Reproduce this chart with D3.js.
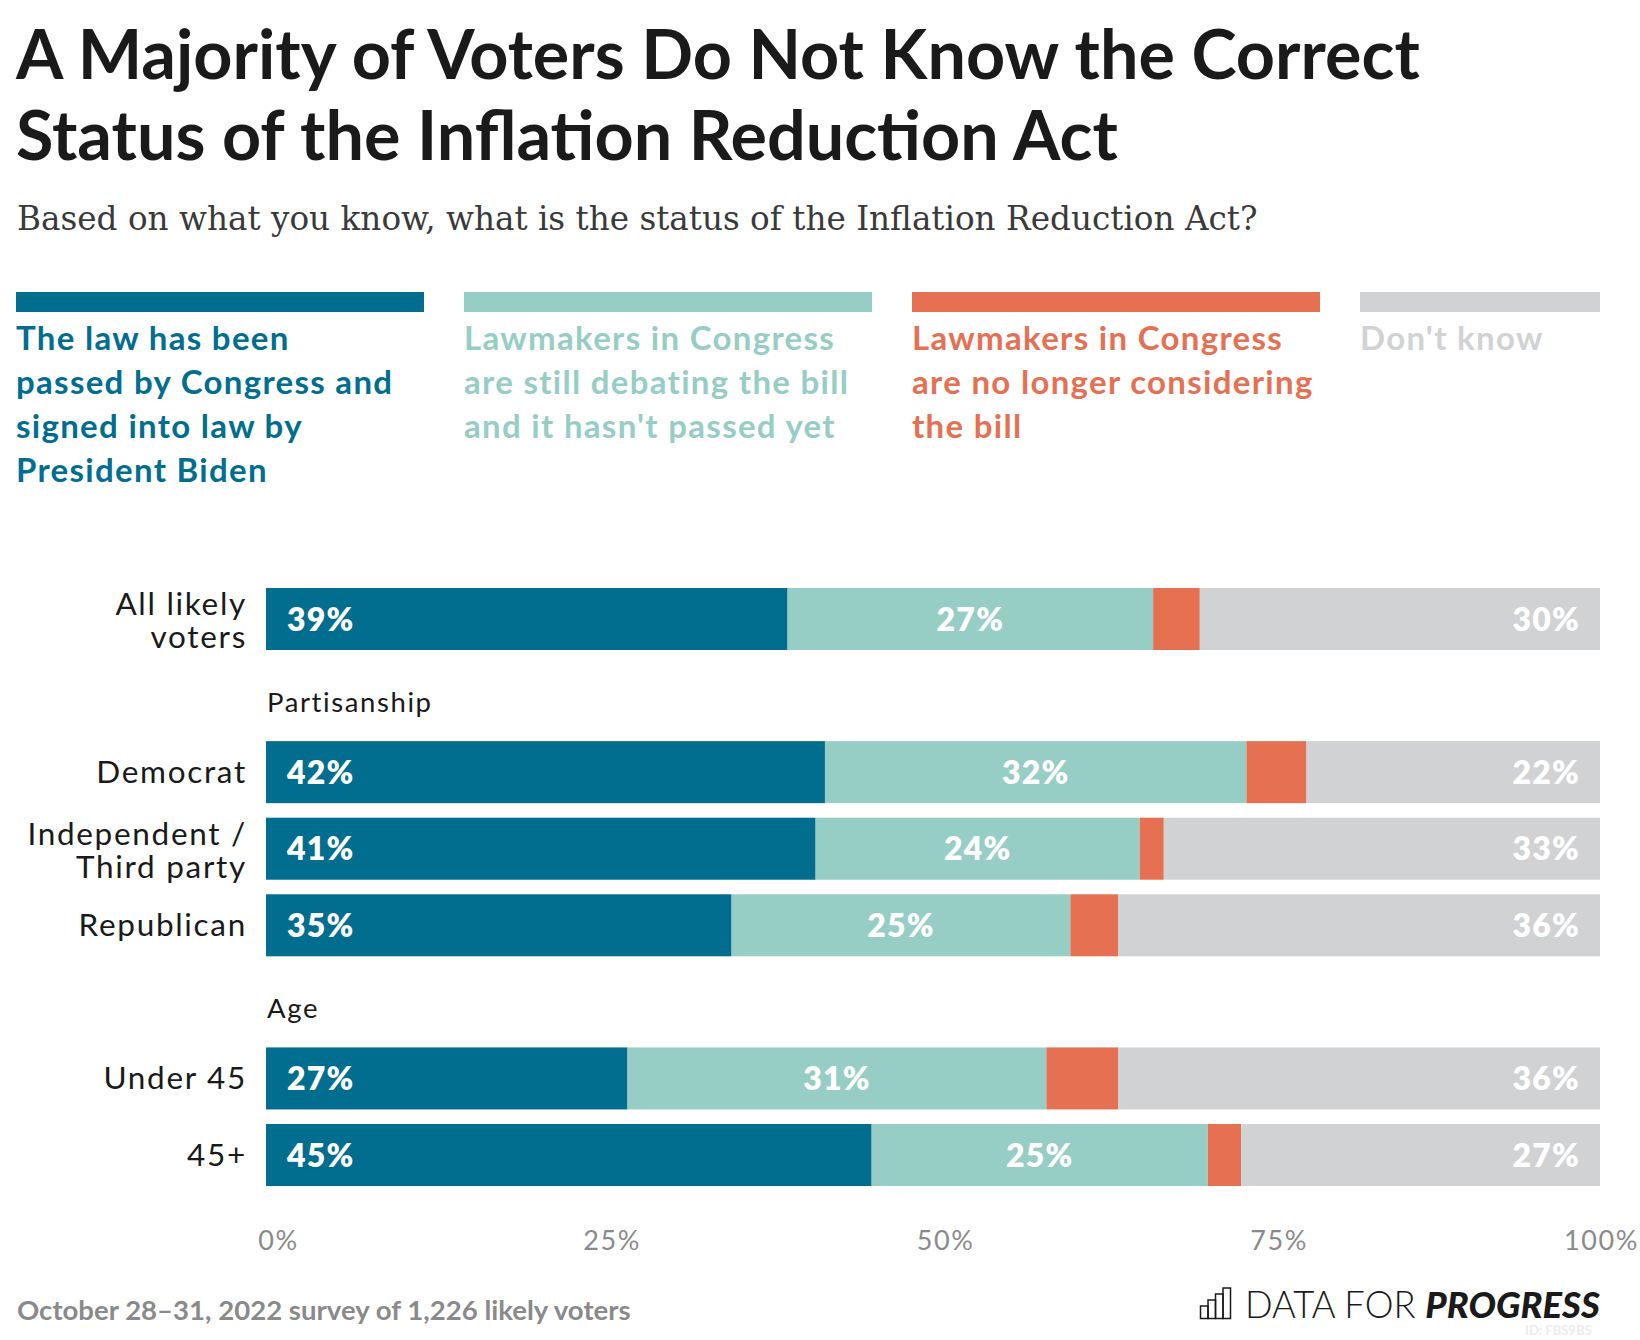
<!DOCTYPE html>
<html><head><meta charset="utf-8">
<script src="https://cdn.jsdelivr.net/npm/d3@7"></script>
<style>
body{margin:0;background:#fff;}
svg{display:block;}
</style></head><body>
<svg id="chart" width="1640" height="1340"></svg>
<script>
// ---------- DATA ----------
const titleLines = ["A Majority of Voters Do Not Know the Correct", "Status of the Inflation Reduction Act"];
const subtitle = "Based on what you know, what is the status of the Inflation Reduction Act?";
const categories = ["All likely voters", "Democrat", "Independent / Third party", "Republican", "Under 45", "45+"];
const categoryLines = [["All likely", "voters"], ["Democrat"], ["Independent /", "Third party"], ["Republican"], ["Under 45"], ["45+"]];
const categoryGroups = ["", "Partisanship", "Partisanship", "Partisanship", "Age", "Age"];
const seriesKeys = ["passed", "debating", "noLonger", "dontKnow"];
const seriesLegend = [
  ["The law has been", "passed by Congress and", "signed into law by", "President Biden"],
  ["Lawmakers in Congress", "are still debating the bill", "and it hasn't passed yet"],
  ["Lawmakers in Congress", "are no longer considering", "the bill"],
  ["Don't know"]
];
const seriesColors = ["#016e8f", "#96cec6", "#e67052", "#d1d2d4"];
const passed   = [39.1, 41.9, 41.2, 34.9, 27.1, 45.4];
const debating = [27.4, 31.6, 24.3, 25.4, 31.4, 25.2];
const noLonger = [ 3.5,  4.5,  1.8,  3.6,  5.4,  2.5];
const dontKnow = [30.0, 22.0, 32.7, 36.1, 36.1, 26.9];
const tickValues = [0, 25, 50, 75, 100];
const footnote = "October 28\u201331, 2022 survey of 1,226 likely voters";

// ---------- LAYOUT ----------
const svg = d3.select("#chart");
const SANS = "Lato, 'Noto Sans', sans-serif";

function fitWidth(sel, target) {
  const w = sel.node().getComputedTextLength();
  const fs = parseFloat(sel.attr("font-size"));
  const nfs = fs * target / w;
  sel.attr("font-size", nfs);
  return nfs;
}

// Title
const t1 = svg.append("text").attr("x", 16).attr("y", 79)
  .attr("font-family", SANS).attr("font-weight", 700).attr("font-size", 64)
  .attr("fill", "#1a1a1a").text(titleLines[0]);
const tfs = fitWidth(t1, 1404);
svg.append("text").attr("x", 16).attr("y", 160)
  .attr("font-family", SANS).attr("font-weight", 700).attr("font-size", tfs)
  .attr("fill", "#1a1a1a").text(titleLines[1]);

// Subtitle
const st = svg.append("text").attr("x", 17).attr("y", 230)
  .attr("font-family", "'DejaVu Serif', serif").attr("font-size", 30)
  .attr("fill", "#3a3a3a").text(subtitle);
fitWidth(st, 1241);

// Legend
const legendX = d3.scaleBand().domain(seriesKeys).range([16, 16 + 4 * 448 - 40]).paddingInner(40 / 448).paddingOuter(0).align(0);
const legendG = svg.append("g");
seriesKeys.forEach((k, i) => {
  const x0 = legendX(k);
  const w = Math.min(legendX.bandwidth(), 1600 - x0);
  legendG.append("rect").attr("x", x0).attr("y", 292).attr("width", w).attr("height", 20).attr("fill", seriesColors[i]);
  seriesLegend[i].forEach((line, j) => {
    legendG.append("text").attr("x", x0).attr("y", 350 + j * 44)
      .attr("font-family", SANS).attr("font-weight", 700).attr("font-size", 33)
      .attr("letter-spacing", 1.3)
      .attr("fill", seriesColors[i]).text(line);
  });
});

// Rows (bars + group header slots)
const slots = [];
let prevGroup = "";
categories.forEach((c, i) => {
  const g = categoryGroups[i];
  if (g && g !== prevGroup) slots.push({type: "header", label: g, key: "h_" + g});
  prevGroup = g;
  slots.push({type: "bar", index: i, key: c});
});

const x = d3.scaleLinear().domain([0, 100]).range([266, 1600]);
const y = d3.scaleBand().domain(slots.map(s => s.key)).range([580.7, 1193.3]).paddingInner(0.19).paddingOuter(0.095);

const seriesArrays = [passed, debating, noLonger, dontKnow];
const table = categories.map((c, i) => {
  const o = {category: c};
  seriesKeys.forEach((k, j) => o[k] = seriesArrays[j][i]);
  return o;
});
const stacked = d3.stack().keys(seriesKeys)(table);

const barsG = svg.append("g");
stacked.forEach((layer, li) => {
  barsG.selectAll(null).data(layer).enter().append("rect")
    .attr("x", d => x(d[0]))
    .attr("y", d => y(d.data.category))
    .attr("width", d => x(d[1]) - x(d[0]))
    .attr("height", y.bandwidth())
    .attr("fill", seriesColors[li]);
});

// value labels
const VFS = 32;
stacked.forEach((layer, li) => {
  if (li === 2) return;
  barsG.selectAll(null).data(layer).enter().append("text")
    .attr("x", d => li === 0 ? x(d[0]) + 21 : li === 1 ? (x(d[0]) + x(d[1])) / 2 : x(d[1]) - 20)
    .attr("y", d => y(d.data.category) + y.bandwidth() / 2 + VFS * 0.36)
    .attr("text-anchor", li === 0 ? "start" : li === 1 ? "middle" : "end")
    .attr("font-family", SANS).attr("font-weight", 800).attr("font-size", VFS)
    .attr("letter-spacing", 1.2)
    .attr("fill", "#fff")
    .text(d => Math.round(d[1] - d[0]) + "%");
});

// category labels
categories.forEach((c, i) => {
  const cy = y(c) + y.bandwidth() / 2;
  const lines = categoryLines[i];
  const t = svg.append("text").attr("text-anchor", "end")
    .attr("font-family", SANS).attr("font-size", 31.5).attr("letter-spacing", 1.7).attr("fill", "#1a1a1a");
  if (lines.length === 1) {
    t.append("tspan").attr("x", 247).attr("y", cy + 11).text(lines[0]);
  } else {
    lines.forEach((l, j) => t.append("tspan").attr("x", 247).attr("y", cy - 4 + j * 33.5).text(l));
  }
});

// group headers
slots.filter(s => s.type === "header").forEach(s => {
  svg.append("text").attr("x", 267).attr("y", y(s.key) + y.bandwidth() / 2 + 16)
    .attr("font-family", SANS).attr("font-size", 27.5).attr("letter-spacing", 1.6)
    .attr("fill", "#1a1a1a").text(s.label);
});

// axis
const axisG = svg.append("g").attr("transform", "translate(0,1212)")
  .call(d3.axisBottom(x).tickValues(tickValues).tickFormat(d => d + "%").tickSize(0).tickPadding(0));
axisG.select(".domain").remove();
axisG.selectAll("text")
  .attr("font-family", SANS).attr("font-size", 27).attr("letter-spacing", 1.6).attr("fill", "#8a8a8a")
  .attr("dy", 38).attr("dx", 12);
axisG.selectAll("text").each(function() {
  const b = this.getBBox();
  const tr = this.parentNode.transform.baseVal.consolidate().matrix.e;
  const right = tr + b.x + b.width;
  if (right > 1639) d3.select(this).attr("dx", 12 - (right - 1639));
});

// footnote
const fn = svg.append("text").attr("x", 17).attr("y", 1320)
  .attr("font-family", SANS).attr("font-weight", 700).attr("font-size", 24)
  .attr("fill", "#8a8a8a").text(footnote);
fitWidth(fn, 614);

// logo
const logo = svg.append("g");
const iconBars = [[1200, 1306], [1207.5, 1300], [1215, 1294], [1222.5, 1288]];
iconBars.forEach(([bx, by]) => {
  logo.append("rect").attr("x", bx + 0.5).attr("y", by).attr("width", 7.5).attr("height", 1318.5 - by)
    .attr("fill", "none").attr("stroke", "#1a1a1a").attr("stroke-width", 1.5);
});
const lt = logo.append("text").attr("x", 1245).attr("y", 1318)
  .attr("font-family", SANS).attr("font-size", 35).attr("fill", "#1a1a1a");
lt.append("tspan").attr("font-weight", 300).text("DATA FOR ");
lt.append("tspan").attr("font-weight", 900).attr("font-style", "italic").text("PROGRESS");
fitWidth(lt, 1600 - 1245);
svg.append("text").attr("x", 1592).attr("y", 1335).attr("text-anchor", "end")
  .attr("font-family", SANS).attr("font-weight", 700).attr("font-size", 13).attr("fill", "#ececec").text("ID: FBS9B5");
</script>
</body></html>
